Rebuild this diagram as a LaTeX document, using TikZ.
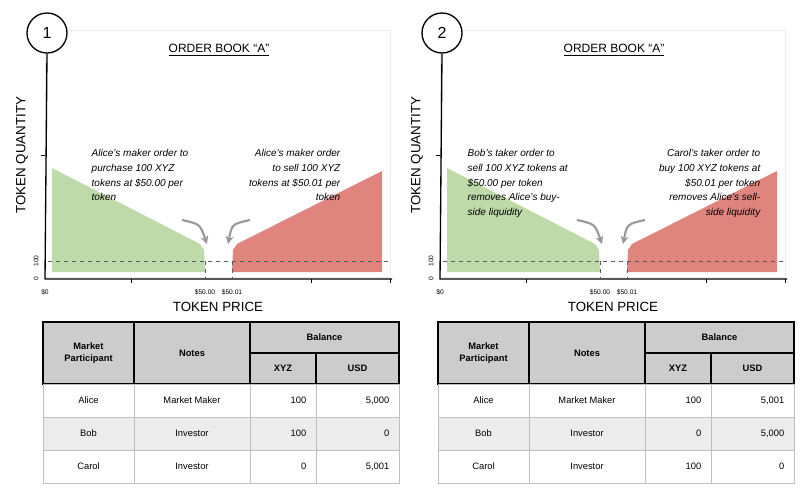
\documentclass[tikz,border=0pt]{standalone}
\usepackage{fontspec}
\setmainfont{Liberation Sans}
\usetikzlibrary{arrows.meta}
\tikzset{
 ann/.style={font=\fontsize{7.5}{11}\selectfont\itshape, align=left, anchor=north west},
 annr/.style={font=\fontsize{7.5}{11}\selectfont\itshape, align=right, anchor=north east},
 curv/.style={draw=gray!80, line width=1.6pt, -{Stealth[length=6pt,width=6pt]}},
 hdr/.style={draw=black, line width=0.8pt, fill=gray!40},
 cell/.style={font=\fontsize{7}{9}\selectfont},
 hcell/.style={font=\fontsize{7}{9}\selectfont\bfseries, align=center},
 tick/.style={font=\fontsize{5}{6}\selectfont},
}
\newcommand{\panel}[9]{%
\begin{scope}[shift={(#1,0)}]
 \draw[gray!15] (45,30) rectangle (390,277);
 \fill[green!50!black!30!white, fill=green!55!black] (0,0) ; 
 \fill[fill={rgb,255:red,190;green,218;blue,168}] (52,168) -- (200,244) -- (204,250) -- (205,272) -- (52,272) -- cycle;
 \fill[fill={rgb,255:red,224;green,132;blue,126}] (232,272) -- (233,250) -- (237,244) -- (382,171) -- (382,272) -- cycle;
 #9
 \node[circle, draw, line width=1pt, minimum size=30pt, fill=white, font=\fontsize{12}{12}\selectfont] (c#2) at (47,33) {#2};
 \draw[line width=1pt] (c#2.south) -- (45,279) coordinate (o#2) -- (392,279) coordinate (xe#2);
 \draw[line width=0.6pt] (45,155) -- (41,155);
 \foreach \x in {131,311,390} \draw[line width=0.6pt] (\x,279) -- (\x,283);
 \draw[dashed, gray!70!black, line width=0.6pt] (48,261) -- (390,261);
 \draw[dashed, gray!70!black, line width=0.6pt] (205,261) -- (205,279);
 \draw[dashed, gray!70!black, line width=0.6pt] (232,261) -- (232,279);
 \node[tick, rotate=90] at (36,261) {100};
 \node[tick, rotate=90] at (36,279) {0};
 \node[tick] at (45,292) {\$0};
 \node[tick] at (205,292) {\$50.00};
 \node[tick] at (232,292) {\$50.01};
 \node[font=\fontsize{10}{10}\selectfont] (xl#2) at (218,307) {TOKEN PRICE};
 \node[font=\fontsize{10}{10}\selectfont, rotate=90] (yl#2) at (22,155) {TOKEN QUANTITY};
 \node[font=\fontsize{9}{9}\selectfont] (t#2) at (219,50) {\underline{ORDER BOOK “A”}};
 \node[ann] (a#2) at (#3,145) {#4};
 \node[annr] (b#2) at (#5,145) {#6};
 \coordinate (l1#2) at (182,220); \coordinate (l2#2) at (207,244);
 \coordinate (r1#2) at (250,220); \coordinate (r2#2) at (228,244);
 \draw[curv] (l1#2) .. controls (200,224) .. (l2#2);
 \draw[curv] (r1#2) .. controls (232,224) .. (r2#2);
 % table
 \fill[gray!40] (43,322) rectangle (399,384);
 \fill[gray!15] (43,417) rectangle (399,450);
 \draw[line width=0.8pt] (43,322) rectangle (399,384);
 \draw[line width=0.8pt] (134,322) -- (134,384) (250,322) -- (250,384) (250,353) -- (399,353) (316,353) -- (316,384);
 \draw[gray!50] (43,384) rectangle (399,483);
 \draw[gray!50] (43,417) -- (399,417) (43,450) -- (399,450);
 \draw[gray!50] (134,384) -- (134,483) (250,384) -- (250,483) (316,384) -- (316,483);
 \node[hcell] (h1#2) at (88.5,353) {Market\\Participant};
 \node[hcell] (h2#2) at (192,353) {Notes};
 \node[hcell] (h3#2) at (324.5,337.5) {Balance};
 \node[hcell] (h4#2) at (283,368.5) {XYZ};
 \node[hcell] (h5#2) at (357.5,368.5) {USD};
 \foreach \n/\nt/\xa/\ua [count=\i] in {#7} {
   \pgfmathsetmacro{\yy}{400.5+33*(\i-1)}
   \node[cell] at (88.5,\yy) {\n};
   \node[cell] at (192,\yy) {\nt};
   \node[cell, anchor=east] at (311,\yy) {\xa};
   \node[cell, anchor=east] at (394,\yy) {\ua};
 }
\end{scope}}
\begin{document}
\begin{tikzpicture}[x=0.75pt,y=-0.75pt]
\useasboundingbox (0,0) rectangle (802,493);
\panel{0}{1}{87}{Alice’s maker order to\\purchase 100 XYZ\\tokens at \$50.00 per\\token}{345}{Alice’s maker order\\to sell 100 XYZ\\tokens at \$50.01 per\\token}{Alice/Market Maker/100/{5,000},Bob/Investor/100/0,Carol/Investor/0/{5,001}}{}{}
\panel{395}{2}{68}{Bob’s taker order to\\sell 100 XYZ tokens at\\\$50.00 per token\\removes Alice’s buy-\\side liquidity}{370}{Carol’s taker order to\\buy 100 XYZ tokens at\\\$50.01 per token\\removes Alice’s sell-\\side liquidity}{Alice/Market Maker/100/{5,001},Bob/Investor/0/{5,000},Carol/Investor/100/0}{}{}
\end{tikzpicture}
\end{document}
